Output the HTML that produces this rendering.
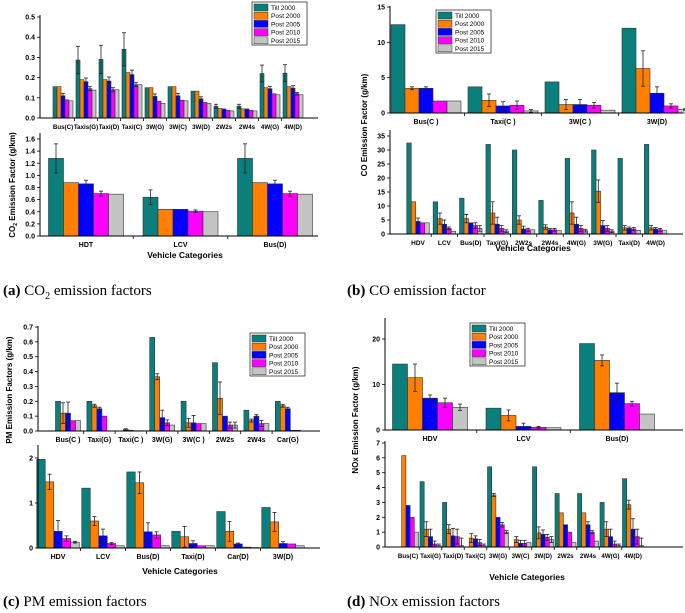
<!DOCTYPE html>
<html><head><meta charset="utf-8"><style>
body{margin:0;background:#fff;width:685px;height:613px;overflow:hidden;font-family:"Liberation Sans",sans-serif}
svg{position:absolute;left:0;top:0}
.cap{position:absolute;font-family:"Liberation Serif",serif;font-size:15px;color:#000}
</style></head><body>
<svg id="fig" width="685" height="613"></svg>
<div class="cap" style="left:3px;top:283px"><b>(a)</b> CO<sub style="font-size:10px">2</sub> emission factors</div>
<div class="cap" style="left:347px;top:283px"><b>(b)</b> CO emission factor</div>
<div class="cap" style="left:3px;top:594px"><b>(c)</b> PM emission factors</div>
<div class="cap" style="left:347px;top:594px"><b>(d)</b> NOx emission factors</div>
<script>
const seriesNames=["Till 2000","Post 2000","Post 2005","Post 2010","Post 2015"];
const colors=["#0b7f7c","#ff8000","#0000ff","#ff00ff","#c4c4c4"];
// (a) top
const aTopCats=["Bus(C)","Taxis(G)","Taxi(D)","Taxi(C)","3W(G)","3W(C)","3W(D)","2W2s","2W4s","4W(G)","4W(D)"];
const aTopVals=[[.155,.155,.11,.09,.085],[.287,.19,.18,.145,.138],[.29,.19,.183,.14,.14],[.34,.225,.215,.165,.165],[.15,.15,.107,.083,.073],[.155,.155,.11,.088,.085],[.133,.133,.095,.077,.072],[.058,.047,.045,.038,.035],[.058,.045,.045,.038,.035],[.22,.15,.145,.12,.115],[.222,.155,.148,.12,.115]];
const aTopErr=[[0,0,.012,0,0],[.068,0,.018,.01,0],[.07,0,.02,.01,0],[.082,0,.022,.01,0],[0,0,.012,0,0],[0,0,.012,0,0],[0,0,.01,0,0],[.01,0,0,0,0],[.01,0,0,0,0],[.042,0,.012,0,0],[.042,0,.012,.006,0]];
const aTopTicks=[0,0.1,0.2,0.3,0.4,0.5];
// (a) bottom
const aBotCats=["HDT","LCV","Bus(D)"];
const aBotVals=[[1.28,.88,.86,.70,.69],[.64,.44,.44,.41,.40],[1.28,.88,.86,.70,.69]];
const aBotErr=[[.24,0,.06,.04,0],[.12,0,0,.02,0],[.24,0,.06,.04,0]];
const aBotTicks=[0,0.2,0.4,0.6,0.8,1.0,1.2,1.4,1.6];
// (b) top
const bTopCats=["Bus(C )","Taxi(C )","3W(C )","3W(D)"];
const bTopVals=[[12.5,3.5,3.5,1.7,1.7],[3.7,1.8,1.0,1.1,0.3],[4.4,1.2,1.2,1.1,0.4],[12,6.3,2.8,1.0,0.5]];
const bTopErr=[[0,.2,.2,0,0],[0,.9,.6,.6,.2],[0,.7,.7,.4,0],[0,2.5,.9,.3,.1]];
const bTopTicks=[0,5,10,15];
// (b) bottom
const bBotCats=["HDV","LCV","Bus(D)","Taxi(G)","2W2s","2W4s","4W(G)","3W(G)","Taxi(D)","4W(D)"];
const bBotVals=[[32.5,11.5,4.5,4,4],[11.5,5.5,3.5,2,1],[12.8,5.5,4,3,2],[32,7.5,3.5,2,1],[30,5,1.8,1.5,1.5],[12,2.5,1.5,1.5,1.2],[27,7.5,3.5,2,1.2],[30,15.3,3,2,1],[27,2.2,2,1.8,1.3],[32,2.2,1.8,1.5,1.2]];
const bBotErr=[[0,0,1.2,0,0],[0,2,1.5,.5,0],[0,1.5,0,1,1],[0,4,2.5,1,.5],[0,1.5,1,.5,0],[0,.8,.5,.5,0],[0,4,2.5,1,.5],[0,4,1.8,1,.5],[0,.8,.5,.5,0],[0,.8,.5,.5,0]];
const bBotTicks=[0,5,10,15,20,25,30,35];
// (c) top
const cTopCats=["Bus(C )","Taxi(G)","Taxi(C )","3W(G)","3W(C )","2W2s","2W4s","Car(G)"];
const cTopVals=[[.2,.12,.12,.07,.07],[.2,.17,.15,.1,0],[0,.01,.005,.002,.002],[.63,.365,.09,.055,.04],[.2,.055,.055,.05,.05],[.46,.22,.1,.04,.04],[.14,.07,.1,.05,.05],[.2,.17,.15,.005,.005]];
const cTopErr=[[0,.07,.075,0,0],[0,.01,.01,0,0],[0,.005,0,0,0],[0,.02,.05,.02,0],[0,.03,.05,0,0],[0,.11,0,.02,.02],[0,.01,.01,.02,0],[0,.01,.01,0,0]];
const cTopTicks=[0,0.1,0.2,0.3,0.4,0.5,0.6,0.7];
// (c) bottom
const cBotCats=["HDV","LCV","Bus(D)","Taxi(D)","Car(D)","3W(D)"];
const cBotVals=[[1.97,1.47,.37,.21,.13],[1.33,.6,.27,.1,.05],[1.69,1.45,.36,.29,.05],[.37,.25,.1,.05,.05],[.81,.37,.09,.02,.01],[.9,.58,.1,.09,.05]];
const cBotErr=[[0,.17,.24,.06,.02],[0,.1,.15,.02,0],[0,.24,.2,.07,0],[0,.23,.06,0,0],[0,.22,.02,0,0],[0,.21,.04,0,0]];
const cBotTicks=[0,1,2];
// (d) top
const dTopCats=["HDV","LCV","Bus(D)"];
const dTopVals=[[14.5,11.5,7,6,5],[4.8,3.2,.8,.6,.5],[19,15.3,8.2,5.8,3.5]];
const dTopErr=[[0,3,.7,1,.7],[0,1.2,.7,.2,0],[0,1.2,2.1,.5,0]];
const dTopTicks=[0,10,20];
// (d) bottom
const dBotCats=["Bus(C)","Taxi(G)","Taxi(D)","Taxi(C)","3W(G)","3W(C)","3W(D)","2W2s","2W4s","4W(G)","4W(D)"];
const dBotVals=[[0,6.15,2.8,2,1],[4.4,1.2,.7,.2,.1],[3,1.2,.75,.7,.1],[0,.6,.55,.3,.1],[5.4,3.5,2,1.5,1],[0,.5,.25,.25,.3],[5.4,.95,.85,.65,.5],[3.6,2.3,1.5,1,.3],[3.6,2.3,1.5,1,.4],[3,1.2,.7,.2,.1],[4.6,2.85,1.2,.7,.1]];
const dBotErr=[[0,0,0,0,0],[0,.5,.5,.2,.1],[0,.3,.5,.5,.5],[0,.3,.2,.2,.1],[0,.1,0,.15,.1],[0,.2,.2,.2,0],[0,.4,.3,.2,.2],[0,0,0,0,0],[0,0,.2,.1,0],[0,.5,.5,.2,.1],[0,.3,.7,.5,.5]];
const dBotTicks=[0,1,2,3,4,5,6,7];

const NS="http://www.w3.org/2000/svg";
const svg=document.getElementById('fig');
function mk(tag,attrs,parent,txt){const e=document.createElementNS(NS,tag);for(const k in attrs)e.setAttribute(k,attrs[k]);if(txt!==undefined)e.textContent=txt;(parent||svg).appendChild(e);return e;}

function panel(p){
  const g=mk('g',{});
  
  
  const yS=v=>p.y0-(v/p.vmax)*(p.y0-p.yTopV);
  const xC=i=>p.c0+i*p.step;
  const bw=p.bw;
  const fs=p.fs||7;
  p.vals.forEach((grp,i)=>{
    grp.forEach((v,s)=>{
      if(v<=0)return;
      const x=xC(i)-2.5*bw+s*bw, y=yS(v);
      const r=mk('rect',{x:x,y:y,width:bw,height:p.y0-y,fill:colors[s],stroke:'#333','stroke-width':0.6},g);
      
      
      const e=p.err[i][s];
      if(e>0){
        const cx=x+bw/2, t=yS(v+e), b=yS(Math.max(0,v-e));
        mk('line',{x1:cx,x2:cx,y1:t,y2:b,stroke:'#222','stroke-width':0.8},g);
        mk('line',{x1:cx-2,x2:cx+2,y1:t,y2:t,stroke:'#222','stroke-width':0.8},g);
        mk('line',{x1:cx-2,x2:cx+2,y1:b,y2:b,stroke:'#222','stroke-width':0.8},g);
      }
    });
    const lbl=mk('text',{x:xC(i),y:p.y0+11,'text-anchor':'middle','font-size':fs,'font-weight':'bold'},g,p.cats[i]);
    
    
    if(i>0)mk('line',{x1:xC(i)-p.step/2,x2:xC(i)-p.step/2,y1:p.y0,y2:p.y0+3,stroke:'#000','stroke-width':0.8},g);
  });
  mk('line',{x1:p.xl,x2:p.xr,y1:p.y0,y2:p.y0,stroke:'#000','stroke-width':1},g);
  mk('line',{x1:p.xl,x2:p.xl,y1:p.y0,y2:p.yAxTop,stroke:'#000','stroke-width':1},g);
  p.ticks.forEach(t=>{
    const y=yS(t);
    mk('line',{x1:p.xl-3,x2:p.xl,y1:y,y2:y,stroke:'#000','stroke-width':0.8},g);
    const tl=mk('text',{x:p.xl-5,y:y+2.5,'text-anchor':'end','font-size':7,'font-weight':'bold'},g,p.fmt?p.fmt(t):String(t));
    
    
  });
}
function legend(x,y,name){
  const g=mk('g',{});
  
  
  mk('rect',{x:x,y:y,width:55,height:43,fill:'#fff',stroke:'#333','stroke-width':0.8},g);
  seriesNames.forEach((n,i)=>{
    mk('rect',{x:x+2,y:y+2+i*8.2,width:14,height:7,fill:colors[i],stroke:'#333','stroke-width':0.5},g);
    mk('text',{x:x+19,y:y+8+i*8.2,'font-size':6.5},g,n);
  });
}
function ytitle(x,y,txt,name){const t=mk('text',{x:x,y:y,'text-anchor':'middle','font-size':8,'font-weight':'bold',transform:`rotate(-90 ${x} ${y})`},svg,txt);return t;}
function xtitle(x,y,txt,name){const t=mk('text',{x:x,y:y,'text-anchor':'middle','font-size':8.5,'font-weight':'bold'},svg,txt);}
const f1=t=>t.toFixed(1);

panel({name:'co2-top-chart',cats:aTopCats,vals:aTopVals,err:aTopErr,ticks:aTopTicks,vmax:.5,y0:118,yTopV:17,yAxTop:15,xl:40,xr:318,c0:63,step:23,bw:4,fmt:f1,fs:6.2});
panel({name:'co2-bottom-chart',cats:aBotCats,vals:aBotVals,err:aBotErr,ticks:aBotTicks,vmax:1.6,y0:236,yTopV:139,yAxTop:133,xl:40,xr:318,c0:86,step:94.5,bw:15,fmt:f1});
legend(252,2,'co2-legend');
const t1=ytitle(15,185,'',"co2-y-title");t1.innerHTML='CO<tspan font-size="5" dy="2">2</tspan><tspan dy="-2"> Emission Factor (g/km)</tspan>';
xtitle(185,258,'Vehicle Categories','co2-x-title');

panel({name:'co-top-chart',cats:bTopCats,vals:bTopVals,err:bTopErr,ticks:bTopTicks,vmax:15,y0:113,yTopV:7,yAxTop:6,xl:390,xr:683,c0:426,step:77,bw:14});
panel({name:'co-bottom-chart',cats:bBotCats,vals:bBotVals,err:bBotErr,ticks:bBotTicks,vmax:35,y0:234,yTopV:136,yAxTop:130,xl:390,xr:683,c0:418,step:26.4,bw:4.5,fs:6.5});
legend(436,10,'co-legend');
ytitle(367,125,'CO Emission Factor (g/km)','co-y-title');
xtitle(533,251,'Vehicle Categories','co-x-title');

panel({name:'pm-top-chart',cats:cTopCats,vals:cTopVals,err:cTopErr,ticks:cTopTicks,vmax:.7,y0:431,yTopV:327,yAxTop:326,xl:38,xr:320,c0:68,step:31.4,bw:5,fmt:f1});
panel({name:'pm-bottom-chart',cats:cBotCats,vals:cBotVals,err:cBotErr,ticks:cBotTicks,vmax:2,y0:548,yTopV:458,yAxTop:445,xl:38,xr:320,c0:58,step:45,bw:8.5});
legend(250,333,'pm-legend');
ytitle(12,390,'PM Emission Factors (g/km)','pm-y-title');
xtitle(180,574,'Vehicle Categories','pm-x-title');

panel({name:'nox-top-chart',cats:dTopCats,vals:dTopVals,err:dTopErr,ticks:dTopTicks,vmax:20,y0:430,yTopV:339,yAxTop:318,xl:385,xr:683,c0:430,step:93.5,bw:15});
panel({name:'nox-bottom-chart',cats:dBotCats,vals:dBotVals,err:dBotErr,ticks:dBotTicks,vmax:7,y0:547,yTopV:443,yAxTop:441,xl:385,xr:683,c0:408,step:22.5,bw:4.2,fs:6.2});
legend(470,323,'nox-legend');
ytitle(358,420,'NOx Emission Factor (g/km)','nox-y-title');
xtitle(527,580,'Vehicle Categories','nox-x-title');
</script>
</body></html>
